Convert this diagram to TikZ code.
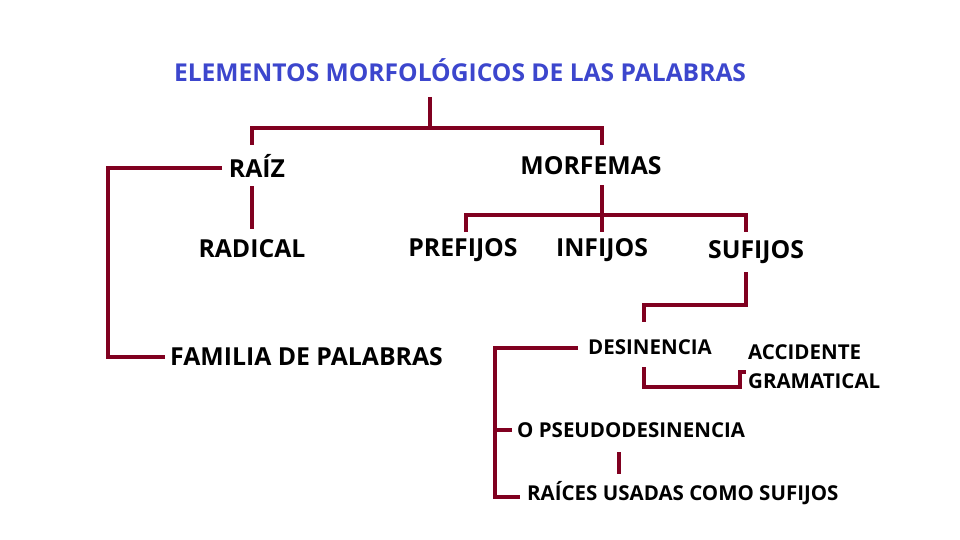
\documentclass[tikz,border=0pt]{standalone}
\usepackage{fontspec}
\setmainfont{Open Sans}
\definecolor{ln}{RGB}{128,0,32}
\definecolor{tt}{RGB}{60,70,205}
\begin{document}
\begin{tikzpicture}[x=1pt,y=-1pt,
  lk/.style={draw=ln,line width=4.5pt,line cap=butt},
  big/.style={font=\fontsize{24.8}{28}\selectfont\bfseries,inner sep=0pt},
  sml/.style={font=\fontsize{20.5}{24}\selectfont\bfseries,inner sep=0pt}]
\useasboundingbox (0,0) rectangle (960,540);
\node[big,text=tt,font=\fontsize{24.6}{28}\selectfont\bfseries] (t) at (460,70) {ELEMENTOS MORFOLÓGICOS DE LAS PALABRAS};
\node[big] (raiz) at (257,166) {RAÍZ};
\node[big] (morf) at (591,166) {MORFEMAS};
\node[big] (rad) at (252,249) {RADICAL};
\node[big] (pre) at (463,250) {PREFIJOS};
\node[big] (inf) at (602,250) {INFIJOS};
\node[big] (suf) at (756,252) {SUFIJOS};
\node[big,anchor=west] (fam) at (170,357) {FAMILIA DE PALABRAS};
\node[sml] (des) at (650,347) {DESINENCIA};
\node[sml,anchor=west] (acc) at (748,352) {ACCIDENTE};
\node[sml,anchor=west] (gra) at (748,381) {GRAMATICAL};
\node[sml,anchor=west] (pse) at (517,430) {O PSEUDODESINENCIA};
\node[sml,anchor=west] (rai) at (527,493) {RAÍCES USADAS COMO SUFIJOS};
\coordinate (a) at (430,97);
\coordinate (b) at (430,128);
\draw[lk] (a) -- (b);
\draw[lk] (252,145) -- (252,128) -- (602,128) -- (602,145);
\draw[lk] (222,168) -- (108,168) -- (108,357) -- ([xshift=-5pt]fam.west);
\draw[lk] (252,186) -- (252,229);
\draw[lk] (602,185) -- (602,232);
\draw[lk] (466,232) -- (466,215) -- (746,215) -- (746,232);
\draw[lk] (746,272) -- (746,305) -- (644,305) -- (644,322);
\draw[lk] (644,367) -- (644,387) -- (740,387) -- (740,372) -- (746,372);
\draw[lk] (578,348) -- (495,348) -- (495,497) -- (520,497);
\draw[lk] (495,430) -- (512,430);
\draw[lk] (619,452) -- (619,474);
\end{tikzpicture}
\end{document}
